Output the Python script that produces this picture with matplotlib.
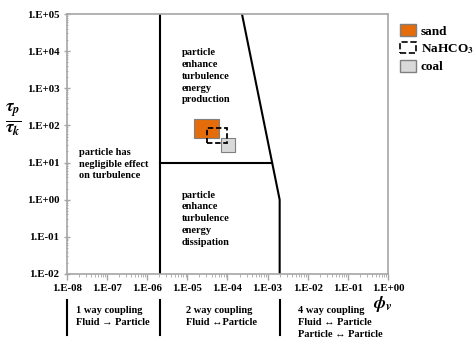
import matplotlib
matplotlib.use("Agg")
from matplotlib import pyplot as plt
from matplotlib.patches import Rectangle, Patch
import matplotlib.transforms as mtransforms
from matplotlib.ticker import LogLocator, NullFormatter

plt.rcParams["font.family"] = ["Liberation Serif", "DejaVu Serif"]
plt.rcParams["font.weight"] = "bold"
plt.rcParams["mathtext.fontset"] = "stix"

# ---- data ----
x_ticks = [1e-8, 1e-7, 1e-6, 1e-5, 1e-4, 1e-3, 1e-2, 1e-1, 1e0]
x_ticklabels = ["1.E-08", "1.E-07", "1.E-06", "1.E-05", "1.E-04", "1.E-03", "1.E-02", "1.E-01", "1.E+00"]
y_ticks = [1e-2, 1e-1, 1e0, 1e1, 1e2, 1e3, 1e4, 1e5]
y_ticklabels = ["1.E-02", "1.E-01", "1.E+00", "1.E+01", "1.E+02", "1.E+03", "1.E+04", "1.E+05"]

# regime boundaries
left_wall_x = [2.1e-6, 2.1e-6]
left_wall_y = [1e-2, 1e5]
mid_line_x = [2.1e-6, 1.3e-3]
mid_line_y = [1e1, 1e1]
slant_x = [2.3e-4, 2.0e-3, 2.0e-3]
slant_y = [1e5, 1.0, 1e-2]

# material boxes: (x0, x1, y0, y1)
materials = ["sand", "NaHCO$_{\\mathbf{3}}$", "coal"]
box_x0 = [1.5e-5, 3.1e-5, 6.9e-5]
box_x1 = [6.2e-5, 9.8e-5, 1.55e-4]
box_y0 = [46, 33, 19]
box_y1 = [148, 85, 46]

# coupling regimes under the axis
regime_x = [1e-8, 2.1e-6, 2.0e-3]
regime_text_x = [1.7e-8, 9e-6, 5.6e-3]
regime_lines = [["1 way coupling", "Fluid \u2192 Particle"],
                ["2 way coupling", "Fluid \u2194Particle"],
                ["4 way coupling", "Fluid \u2194 Particle", "Particle \u2194 Particle"]]

# ---- figure ----
fig = plt.figure(figsize=(4.74, 3.45), dpi=100)
ax = fig.add_axes([0.1414, 0.2058, 0.677, 0.7536])
ax.set_xscale("log")
ax.set_yscale("log")
ax.set_xlim(1e-8, 1e0)
ax.set_ylim(1e-2, 1e5)

for side in ["top", "right", "bottom", "left"]:
    ax.spines[side].set_color("#a6a6a6")
    ax.spines[side].set_linewidth(1.2)

ax.set_xticks(x_ticks)
ax.set_xticklabels(x_ticklabels)
ax.set_yticks(y_ticks)
ax.set_yticklabels(y_ticklabels)
ax.xaxis.set_minor_locator(LogLocator(base=10, subs=range(2, 10), numticks=20))
ax.yaxis.set_minor_locator(LogLocator(base=10, subs=range(2, 10), numticks=20))
ax.xaxis.set_minor_formatter(NullFormatter())
ax.yaxis.set_minor_formatter(NullFormatter())
ax.tick_params(axis="both", which="major", labelsize=7.8, color="#a6a6a6", length=4, width=1)
ax.tick_params(axis="both", which="minor", color="#a6a6a6", length=2, width=0.6)
ax.tick_params(axis="y", which="both", direction="inout")
ax.tick_params(axis="x", which="both", direction="out")
ax.tick_params(axis="x", pad=3)

# boundaries
ax.plot(left_wall_x, left_wall_y, color="black", lw=1.5)
ax.plot(mid_line_x, mid_line_y, color="black", lw=1.5)
ax.plot(slant_x, slant_y, color="black", lw=1.5)

# boxes
ax.add_patch(Rectangle((box_x0[0], box_y0[0]), box_x1[0] - box_x0[0], box_y1[0] - box_y0[0],
                       facecolor="#E46C0A", edgecolor="#7f7f7f", lw=0.8, zorder=3))
ax.add_patch(Rectangle((box_x0[2], box_y0[2]), box_x1[2] - box_x0[2], box_y1[2] - box_y0[2],
                       facecolor="#D9D9D9", edgecolor="#7f7f7f", lw=0.8, zorder=4))
ax.add_patch(Rectangle((box_x0[1], box_y0[1]), box_x1[1] - box_x0[1], box_y1[1] - box_y0[1],
                       facecolor="none", edgecolor="black", lw=1.3, linestyle=(0, (3, 1.5)), zorder=5))

# region labels
ax.text(2.0e-8, 25, "particle has\nnegligible effect\non turbulence", fontsize=7.5,
        fontweight="bold", va="top", ha="left", linespacing=1.4)
ax.text(7.4e-6, 1.2e4, "particle\nenhance\nturbulence\nenergy\nproduction", fontsize=7.5,
        fontweight="bold", va="top", ha="left", linespacing=1.4)
ax.text(7.4e-6, 1.75, "particle\nenhance\nturbulence\nenergy\ndissipation", fontsize=7.5,
        fontweight="bold", va="top", ha="left", linespacing=1.4)

# axis labels
fig.text(0.027, 0.652, r"$\frac{\tau_p}{\tau_k}$", fontsize=18, ha="center", va="center")
fig.text(0.808, 0.119, r"$\phi_v$", fontsize=13, ha="center", va="center")

# legend
handles = [Patch(facecolor="#E46C0A", edgecolor="#7f7f7f"),
           Patch(facecolor="none", edgecolor="black", linestyle="--", lw=1.2),
           Patch(facecolor="#D9D9D9", edgecolor="#7f7f7f")]
fig.legend(handles, materials, loc="upper left", bbox_to_anchor=(0.833, 0.945),
           frameon=False, prop={"size": 9.5, "weight": "bold"},
           handlelength=1.2, handleheight=1.0, handletextpad=0.35, labelspacing=0.3,
           borderaxespad=0)

# coupling regimes under the axis
trans = mtransforms.blended_transform_factory(ax.transData, ax.transAxes)
for xv, tx, lines in zip(regime_x, regime_text_x, regime_lines):
    ax.plot([xv, xv], [-0.1, -0.235], color="black", lw=1.5, transform=trans, clip_on=False)
    for i, line in enumerate(lines):
        ax.text(tx, -0.142 - i * 0.0445, line, transform=trans, fontsize=7.5,
                fontweight="bold", va="center", ha="left")

fig.savefig("out.png", dpi=100)
